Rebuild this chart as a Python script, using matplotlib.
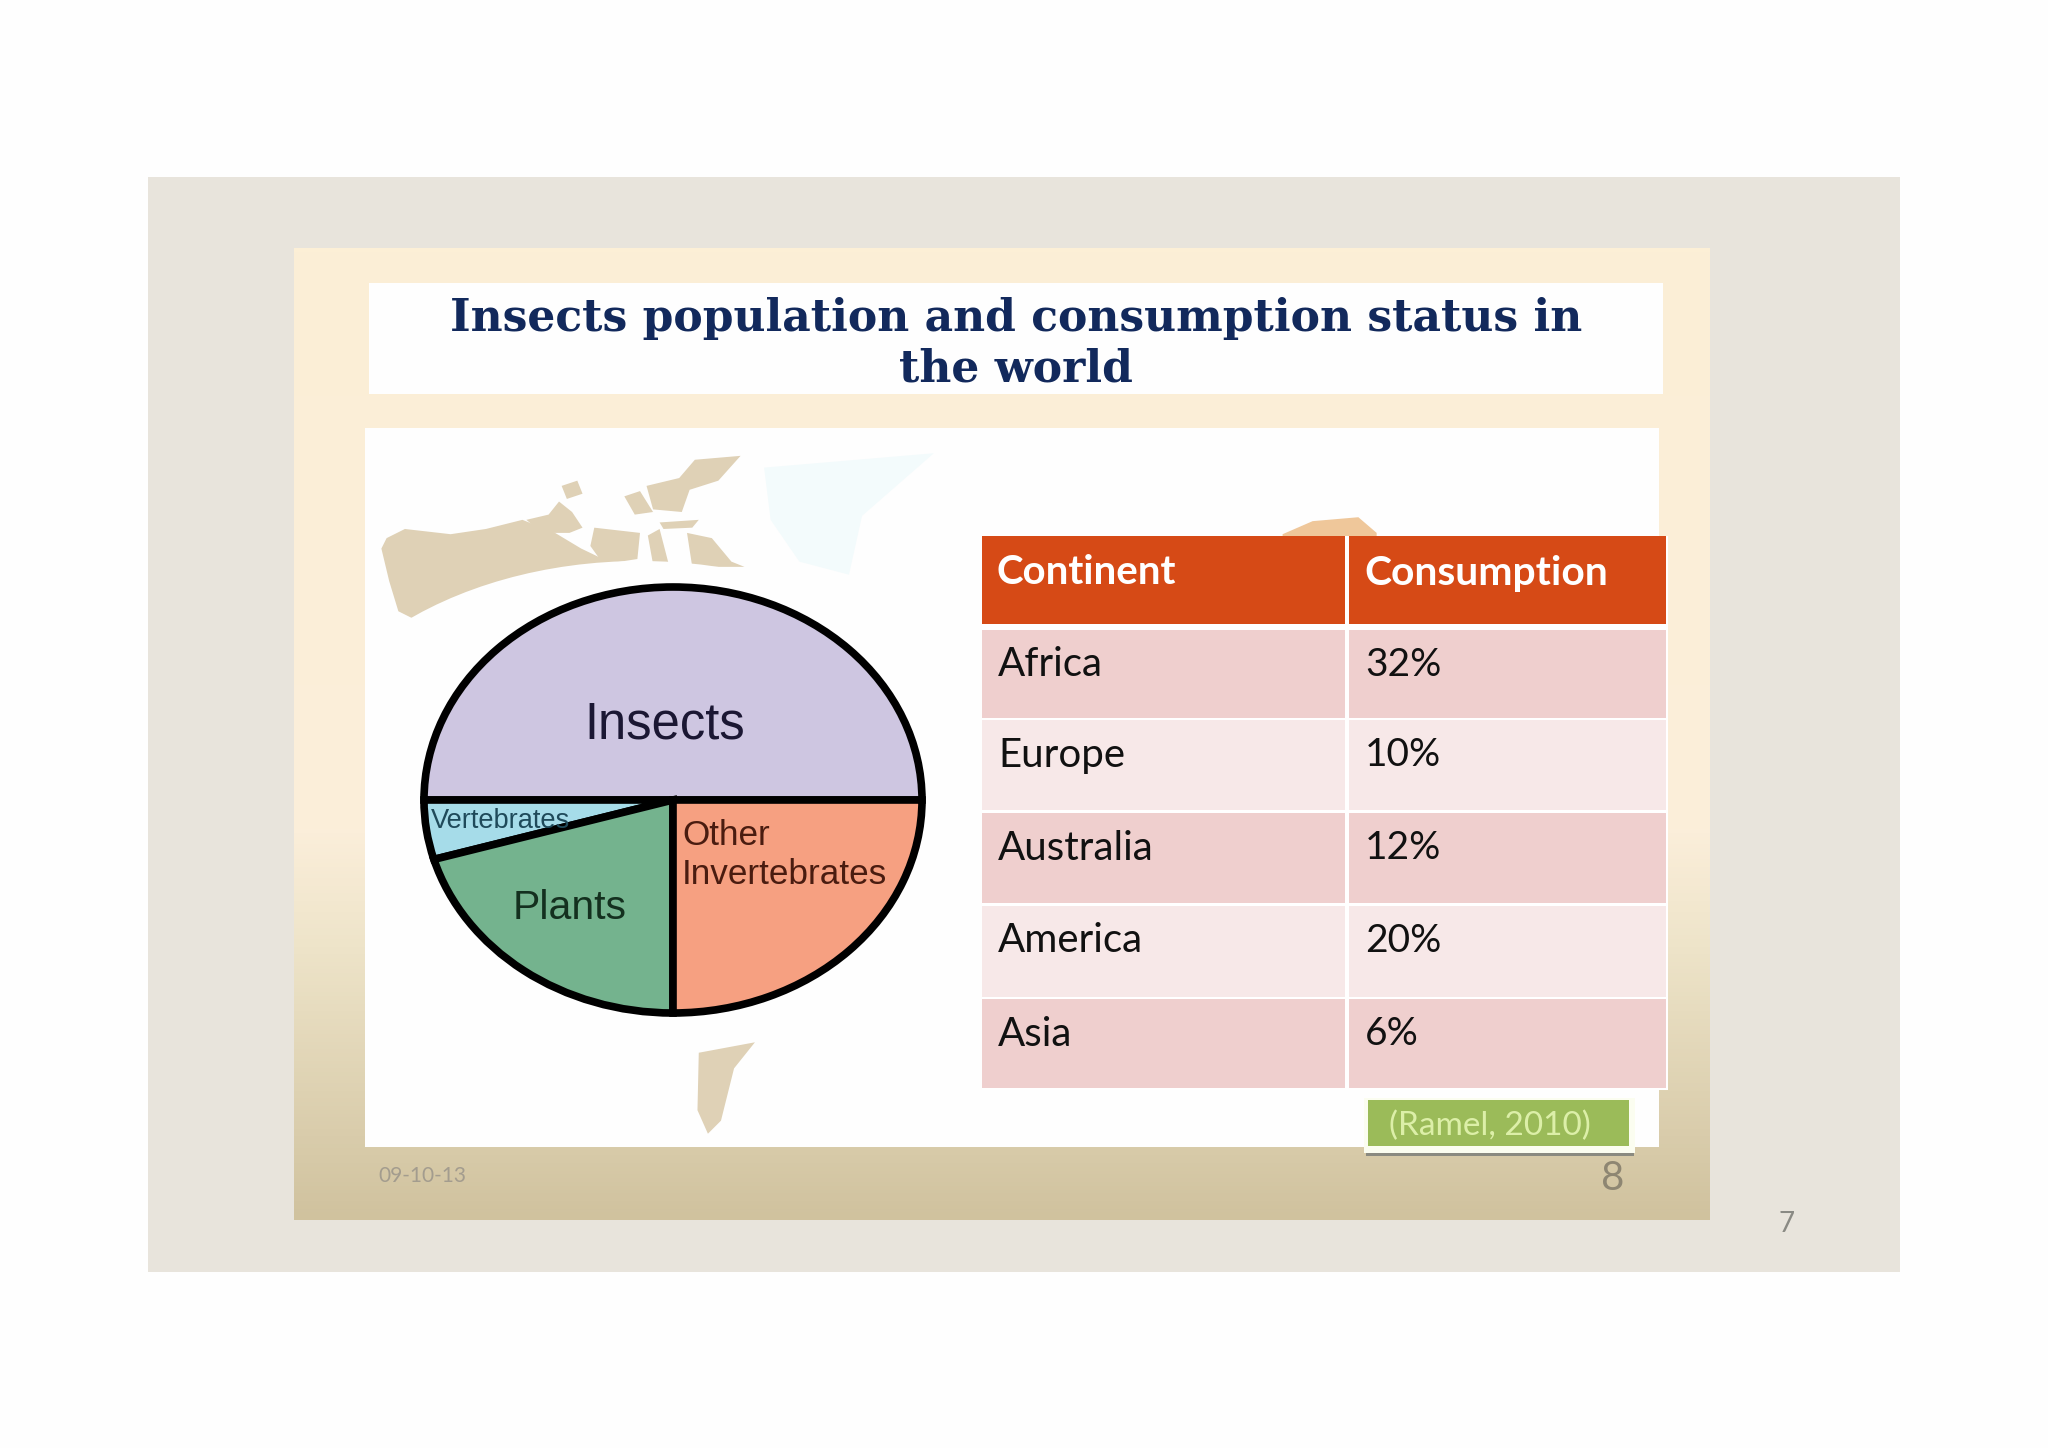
"""
Insects population and consumption slide: pie chart plus continent table.
Layout is worked out in reference pixels, values are read off the picture.
"""

import matplotlib
matplotlib.use("Agg")
import matplotlib.pyplot as plt
import numpy as np
from matplotlib.colors import LinearSegmentedColormap
from matplotlib.patches import Ellipse, Polygon, Rectangle

# pie data
pie_labels = ["Insects", "Vertebrates", "Plants", "Other\nInvertebrates"]
pie_values = [50, 4.5, 20.5, 25]
pie_colors = ["#CEC6E1", "#A6DCE9", "#74B38E", "#F6A081"]

# table data
table_header = ["Continent", "Consumption"]
continents = ["Africa", "Europe", "Australia", "America", "Asia"]
consumption = ["32%", "10%", "12%", "20%", "6%"]

W, H = 2048, 1448
fig = plt.figure(figsize=(W / 100, H / 100), dpi=100, facecolor="#FEFEFE")
bg = fig.add_axes([0, 0, 1, 1])
bg.set_xlim(0, W)
bg.set_ylim(H, 0)
bg.axis("off")


def box(x0, y0, x1, y1, color, z=1):
    rect = Rectangle((x0, y0), x1 - x0, y1 - y0, facecolor=color, edgecolor="none", zorder=z)
    bg.add_patch(rect)
    return rect


def blob(pts, color, z=4):
    k = W / 1568
    bg.add_patch(Polygon([(x * k, y * k) for x, y in pts], closed=True, facecolor=color, edgecolor="none", zorder=z))


# slide backgrounds
box(148, 177, 1900, 1272, "#E8E4DC")
slide_cmap = LinearSegmentedColormap.from_list(
    "slide", [(0, "#FCEFD6"), (0.6, "#FBEEDA"), (0.72, "#EEE4C9"), (1, "#D0C29E")])
grad = np.linspace(0, 1, 256).reshape(-1, 1)
bg.imshow(grad, extent=(294, 1710, 1220, 248), cmap=slide_cmap, aspect="auto", zorder=2)
bg.set_xlim(0, W)
bg.set_ylim(H, 0)
box(369, 283, 1663, 394, "#FEFEFE", 3)
panel = box(365, 428, 1659, 1147, "#FEFEFE", 3)

# faded world map behind the pie
land = "#DFD1B6"
land_shapes = [
    [(292, 420), (296, 412), (310, 405), (345, 409), (372, 405), (400, 398), (425, 408), (445, 420), (470, 432),
     (430, 445), (380, 455), (345, 468), (325, 478), (305, 468), (298, 445)],
    [(403, 398), (420, 394), (428, 384), (438, 392), (446, 404), (436, 408), (415, 408)],
    [(455, 404), (490, 408), (488, 428), (462, 432), (452, 418)],
    [(496, 410), (505, 405), (512, 432), (500, 432)],
    [(526, 408), (545, 412), (560, 430), (570, 434), (530, 434)],
    [(495, 372), (520, 366), (532, 352), (567, 349), (550, 368), (528, 375), (522, 392), (500, 390)],
    [(478, 380), (490, 376), (500, 392), (486, 394)],
    [(430, 372), (442, 368), (446, 378), (434, 382)],
    [(505, 400), (535, 398), (530, 404), (508, 405)],
    [(535, 806), (578, 798), (562, 818), (552, 858), (542, 868), (534, 850)],
]
for pts in land_shapes:
    blob(pts, land)
blob([(982, 409), (1005, 399), (1040, 396), (1054, 408), (1054, 412), (982, 412)], "#EFC79A")
blob([(585, 358), (715, 347), (660, 395), (650, 440), (612, 430), (590, 398)], "#F3FBFC")
halo = Ellipse((640, 801), 708, 480, facecolor="#FEFEFE", edgecolor="none", zorder=5)
bg.add_patch(halo)
halo.set_clip_path(panel)

# table
table_left, table_mid, table_right = 982, 1347, 1666
box(table_left, 536, table_right + 2, 1090, "#FFFFFF", 6)
box(table_left, 536, table_mid - 2, 624, "#D64A16", 7)
box(table_mid + 2, 536, table_right, 624, "#D64A16", 7)
bg.text(997, 573, table_header[0], fontsize=29, fontweight="bold", family="Lato", color="white", va="center", zorder=8)
bg.text(1364, 573, table_header[1], fontsize=29.3, fontweight="bold", family="Lato", color="white", va="center", zorder=8)
row_tops = [630, 720, 813, 906, 999]
row_bottoms = [718, 810, 903, 997, 1088]
for i, name in enumerate(continents):
    shade = "#EFCFCE" if i % 2 == 0 else "#F7E8E8"
    box(table_left, row_tops[i], table_mid - 2, row_bottoms[i], shade, 7)
    box(table_mid + 2, row_tops[i], table_right, row_bottoms[i], shade, 7)
    bg.text(998, row_tops[i] + 35, name, fontsize=29, family="Lato", color="#111111", va="center", zorder=8)
    bg.text(1365, row_tops[i] + 35, consumption[i], fontsize=28, family="Lato", color="#111111", va="center", zorder=8)

# citation box
box(1366, 1146, 1634, 1156, "#8A8A80", 8)
box(1364, 1098, 1635, 1153, "#FBFDF0", 9)
box(1368, 1100, 1629, 1146, "#9BBB59", 10)
bg.text(1389, 1126, "(Ramel, 2010)", fontsize=24, family="Lato", color="#DCEFA8", va="center", zorder=11)

# footer
bg.text(378, 1176, "09-10-13", fontsize=15, family="Lato", color="#A39C8E", va="center", zorder=4)
bg.text(1613, 1179, "8", fontsize=29, family="Lato", color="#8E8672", ha="center", va="center", zorder=4)
bg.text(1787, 1224, "7", fontsize=20, family="Lato", color="#8A8A84", ha="center", va="center", zorder=4)

# title
bg.text(1016, 319, "Insects population and consumption status in", fontsize=31.8, family="DejaVu Serif",
        fontweight="bold", color="#12295C", ha="center", va="center", zorder=4)
bg.text(1016, 369, "the world", fontsize=31.8, family="DejaVu Serif",
        fontweight="bold", color="#12295C", ha="center", va="center", zorder=4)

# pie in its own axes, stretched to the ellipse of the reference
cx, cy, rx, ry = 673, 800, 249, 213
pie_ax = fig.add_axes([(cx - 1.25 * rx) / W, 1 - (cy + 1.25 * ry) / H, 2.5 * rx / W, 2.5 * ry / H])
pie_ax.pie(pie_values, colors=pie_colors, startangle=0, counterclock=True,
           wedgeprops={"edgecolor": "black", "linewidth": 5.5})
pie_ax.set_aspect("auto")
pie_ax.set_xlim(-1.25, 1.25)
pie_ax.set_ylim(-1.25, 1.25)

# pie labels go over the pie axes, so they are figure texts in pixel coords
label_style = {"family": "Liberation Sans", "transform": bg.transData, "va": "center"}
fig.text(665, 725, pie_labels[0], fontsize=36.5, color="#1B1733", ha="center", **label_style)
fig.text(431, 821, pie_labels[1], fontsize=19.6, color="#1F4A5A", ha="left", **label_style)
fig.text(570, 908, pie_labels[2], fontsize=29.5, color="#14301F", ha="center", **label_style)
fig.text(682, 855, pie_labels[3], fontsize=25.3, color="#4A1C10", ha="left", linespacing=1.22, **label_style)

fig.savefig("out.png", dpi=100)
